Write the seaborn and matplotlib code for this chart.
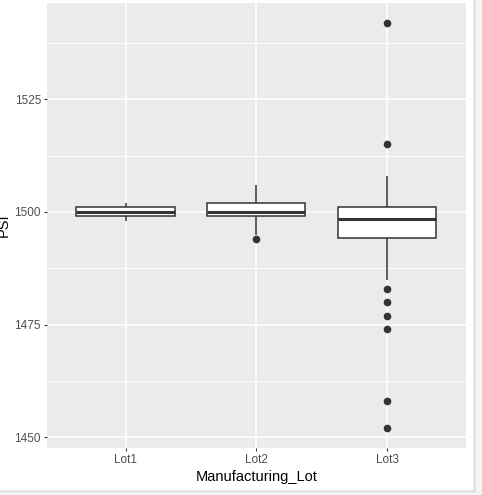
import matplotlib
matplotlib.use("Agg")
import matplotlib.pyplot as plt
from matplotlib.ticker import MultipleLocator
from matplotlib.patches import Rectangle
from matplotlib.lines import Line2D
import pandas as pd
import seaborn as sns

# PSI readings per lot
lots = ["Lot1", "Lot2", "Lot3"]
lot1_psi = [1498, 1498.5, 1499, 1499, 1499, 1499, 1499.5, 1500, 1500, 1500, 1500,
            1500, 1500.5, 1501, 1501, 1501, 1501, 1501.5, 1502, 1502, 1502]
lot2_psi = [1494, 1495, 1497, 1498, 1499, 1499, 1499, 1500, 1500, 1500, 1500,
            1501, 1501, 1501, 1502, 1502, 1502, 1503, 1504, 1505, 1506]
lot3_psi = [1452, 1458, 1474, 1477, 1480, 1483, 1485, 1490, 1494.2, 1495, 1496,
            1496, 1497, 1497, 1498, 1498, 1498.5, 1499, 1499, 1499, 1500, 1500,
            1500, 1501, 1501, 1502, 1503, 1504, 1505, 1506, 1508, 1515, 1542]
y_ticks = [1450, 1475, 1500, 1525]

df = pd.DataFrame({
    "Manufacturing_Lot": ["Lot1"] * len(lot1_psi) + ["Lot2"] * len(lot2_psi) + ["Lot3"] * len(lot3_psi),
    "PSI": lot1_psi + lot2_psi + lot3_psi,
})

plt.rcParams["font.family"] = ["Liberation Sans", "DejaVu Sans"]

fig = plt.figure(figsize=(4.82, 4.95), dpi=100)
ax = fig.add_axes([47 / 482, 1 - 448.3 / 495, (465.7 - 47) / 482, (448.3 - 2.7) / 495])

sns.boxplot(data=df, x="Manufacturing_Lot", y="PSI", order=lots, color="white",
            linecolor="#333333", linewidth=1.1, width=0.75, showcaps=False, ax=ax,
            flierprops=dict(marker="o", markerfacecolor="#333333",
                            markeredgecolor="#333333", markersize=4.5),
            medianprops=dict(linewidth=2.2))

# ggplot grey theme
ax.set_facecolor("#EBEBEB")
ax.set_axisbelow(True)
for s in ax.spines.values():
    s.set_visible(False)
ax.set_ylim(1447.5, 1546.5)
ax.set_xlim(-0.6, 2.6)
ax.set_yticks(y_ticks)
ax.yaxis.set_minor_locator(MultipleLocator(12.5))
ax.grid(which="major", color="white", linewidth=1.1)
ax.grid(which="minor", axis="y", color="white", linewidth=0.55)
ax.tick_params(which="major", length=2.5, width=0.8, color="#333333",
               labelcolor="#4D4D4D", labelsize=8.5, pad=1.8)
ax.tick_params(which="minor", length=0)

ax.set_xlabel("Manufacturing_Lot", fontsize=10.5, color="black")
ax.set_ylabel("PSI", fontsize=10.5, color="black")
ax.xaxis.set_label_coords(0.5, -0.0487)
ax.yaxis.set_label_coords(-0.087, 0.5)

# screenshot frame on right / bottom
fig.add_artist(Rectangle((474 / 482, 0), 8 / 482, 1, transform=fig.transFigure,
                         color="#F3F4F6", zorder=-1))
fig.add_artist(Rectangle((0, 0), 1, 5 / 495, transform=fig.transFigure,
                         color="#F3F4F6", zorder=-1))
fig.add_artist(Line2D([473.5 / 482] * 2, [4.5 / 495, 1], transform=fig.transFigure,
                      color="#D6D8DB", linewidth=1))
fig.add_artist(Line2D([0, 473.5 / 482], [4.5 / 495] * 2, transform=fig.transFigure,
                      color="#D6D8DB", linewidth=1))

fig.savefig("out.png", dpi=100)
